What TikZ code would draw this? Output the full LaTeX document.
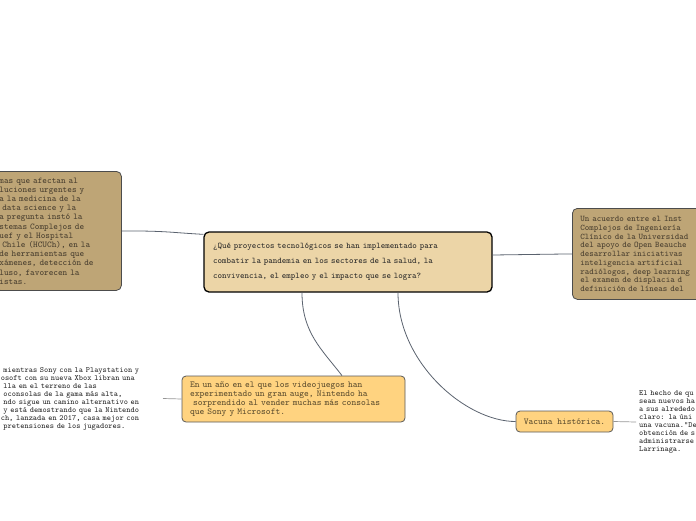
\documentclass[tikz,border=0pt]{standalone}
\usepackage{fontspec}
\definecolor{centralfill}{RGB}{236,213,167}
\definecolor{tanfill}{RGB}{190,165,118}
\definecolor{orangefill}{RGB}{255,211,128}
\definecolor{linkgray}{RGB}{90,98,110}
\definecolor{stubgray}{RGB}{150,150,150}
\definecolor{tantext}{RGB}{70,60,45}
\definecolor{orangetext}{RGB}{90,75,45}
\newcommand\mapfont[2]{\ttfamily\fontsize{#1}{#2}\selectfont\lineskiplimit=-5pt\relax}
\tikzset{>=latex}
\tikzset{
  topic/.style={draw=black, line width=1.3pt, rounded corners=5pt, fill=centralfill,
    text=black!85, align=left, font=\mapfont{8.6}{15}},
  subtopic/.style={draw=black!65, line width=0.8pt, rounded corners=4pt, fill=orangefill,
    text=orangetext, align=left, font=\mapfont{9.1}{9}},
  detail/.style={draw=black!70, line width=0.8pt, rounded corners=5pt, fill=tanfill,
    text=tantext, align=left, inner ysep=0pt},
  note/.style={text=black!85, align=left, font=\mapfont{7.95}{8}},
  link/.style={draw=linkgray, line width=0.8pt},
  stub/.style={draw=stubgray, line width=0.7pt}
}

\begin{document}
\begin{tikzpicture}[x=1pt, y=-1pt]
    \useasboundingbox (0,0) rectangle (696,520);
    \clip (0,0) rectangle (696,520);

    \node[topic, text width=270pt, inner xsep=9pt, minimum height=60pt] at (348,262) (central)
      {¿Qué proyectos tecnológicos se han implementado para\\
       combatir la pandemia en los sectores de la salud, la\\
       convivencia, el empleo y el impacto que se logra?};

    \node[detail, anchor=north west, text width=118pt, inner xsep=4pt, minimum height=119pt,
      font=\mapfont{8.85}{9.2}] at (-5,171) (pandemia)
      {mas que afectan al\\
       luciones urgentes y\\
       a la medicina de la\\
       ~data science y la\\
       a pregunta instó la\\
       stemas Complejos de\\
       uef y el Hospital\\
       ~Chile (HCUCh), en la\\
       de herramientas que\\
       xámenes, detección de\\
       luso, favorecen la\\
       istas.};

    \node[detail, anchor=north west, text width=140pt, inner xsep=8pt, minimum height=91pt,
      font=\mapfont{8.6}{8.75}] at (572,208) (acuerdo)
      {Un acuerdo entre el Inst\\
       Complejos de Ingeniería\\
       Clínico de la Universidad\\
       del apoyo de Open Beauche\\
       desarrollar iniciativas\\
       inteligencia artificial\\
       radiólogos, deep learning\\
       el examen de displacia d\\
       definición de líneas del};

    \node[subtopic, text width=207pt, inner xsep=8pt, minimum height=46pt] at (293.5,399) (nintendo)
      {En un año en el que los videojuegos han\\
       experimentado un gran auge, Nintendo ha\\
       ~sorprendido al vender muchas más consolas\\
       que Sony y Microsoft.};

    \node[subtopic, minimum width=97pt, minimum height=21pt, inner xsep=7pt] at (564.5,421.5) (vacuna)
      {Vacuna histórica.};

    \node[note, anchor=east, text width=161pt, inner xsep=1pt] at (163,398.5) (consolas)
      {~mientras Sony con la Playstation y\\
       osoft con su nueva Xbox libran una\\
       ~lla en el terreno de las\\
       ~oconsolas de la gama más alta,\\
       ~ndo sigue un camino alternativo en\\
       ~y está demostrando que la Nintendo\\
       ch, lanzada en 2017, casa mejor con\\
       ~pretensiones de los jugadores.};

    \node[note, anchor=west, text width=60pt, inner xsep=3pt] at (636,422) (hecho)
      {El hecho de qu\\
       sean nuevos ha\\
       a sus alrededo\\
       claro: la úni\\
       una vacuna."De\\
       obtención de s\\
       administrarse\\
       Larrinaga.};

    % connectors
    \draw[link] (pandemia.east) .. controls +(45,0) and +(-35,-2) .. ([yshift=-3pt]central.north west);
    \draw[link] ([yshift=7pt]central.east) .. controls +(40,0) and +(-40,0) .. (acuerdo.west);
    \draw[link] ([xshift=-46pt]central.south) .. controls +(0,40) and +(-20,-26) .. ([xshift=48.5pt]nintendo.north);
    \draw[link] ([xshift=50pt]central.south) .. controls +(0,70) and +(-50,0) .. (vacuna.west);
    \draw[stub] (nintendo.west) -- (consolas.east);
    \draw[stub] (vacuna.east) -- (hecho.west);

\end{tikzpicture}
\end{document}
